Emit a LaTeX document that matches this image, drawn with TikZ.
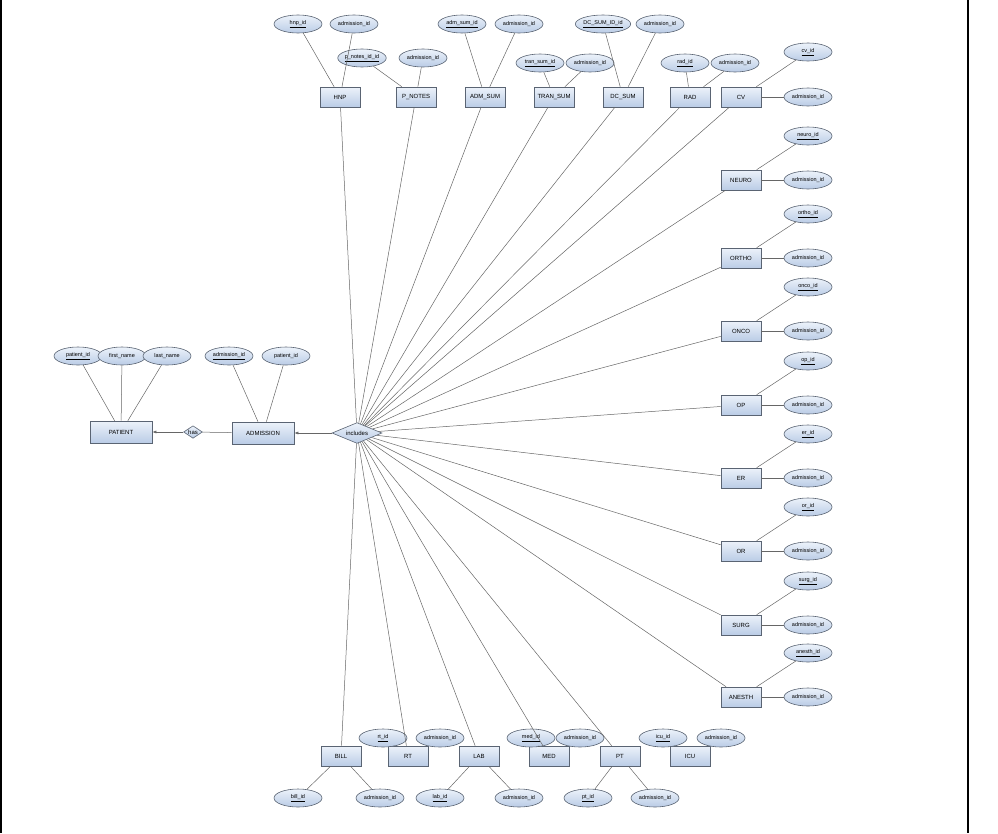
\documentclass[tikz,border=0pt]{standalone}
\usepackage{fontspec}
\setmainfont{Liberation Sans}
\usetikzlibrary{shapes.geometric,arrows.meta}
\definecolor{fillA}{RGB}{236,242,250}
\definecolor{fillB}{RGB}{186,204,230}
\definecolor{edge}{RGB}{90,100,115}
\tikzset{
 ent/.style={draw=edge,line width=0.6pt,top color=fillA,bottom color=fillB,minimum width=40pt,minimum height=20pt,font=\fontsize{6}{7}\selectfont,inner sep=1pt},
 att/.style={ellipse,draw=edge,line width=0.6pt,top color=fillA,bottom color=fillB,minimum width=48pt,minimum height=18pt,font=\fontsize{5.5}{6}\selectfont,inner sep=0pt},
 rel/.style={diamond,draw=edge,line width=0.6pt,top color=fillA,bottom color=fillB,aspect=1.5,font=\fontsize{6}{7}\selectfont,inner sep=0.5pt},
 con/.style={draw=black!60,line width=0.5pt},
 arr/.style={con,-{Latex[length=4pt,width=3pt]}}
}
\newcommand{\ux}[1]{\underline{#1}}
\begin{document}
\begin{tikzpicture}[x=1pt,y=-1pt]
\useasboundingbox (0,0) rectangle (998,833);
\draw[line width=1.2pt] (1,0) -- (1,833);
\draw[line width=1.2pt] (968,0) -- (968,833);
% main
\node[ent,minimum width=62pt,minimum height=22pt] (patient) at (121,432) {PATIENT};
\node[rel] (has) at (193,432) {has};
\node[ent,minimum width=62pt,minimum height=22pt] (admission) at (263,433) {ADMISSION};
\node[rel,minimum width=50pt] (includes) at (357,433) {includes};
\node[att] (pid) at (78,356) {\ux{patient\_id}};
\node[att] (fn) at (122,356) {first\_name};
\node[att] (ln) at (167,356) {last\_name};
\node[att] (aid) at (229,356) {\ux{admission\_id}};
\node[att] (apid) at (286,356) {patient\_id};
\draw[con] (pid) -- (patient); \draw[con] (fn) -- (patient); \draw[con] (ln) -- (patient);
\draw[con] (aid) -- (admission); \draw[con] (apid) -- (admission);
\draw[arr] (has) -- (patient);
\draw[con] (has) -- (admission);
\draw[arr] (includes) -- (admission);
% top
\node[ent] (hnp) at (340,97) {HNP};
\node[ent] (pnotes) at (416,97) {P\_NOTES};
\node[ent] (admsum) at (485,97) {ADM\_SUM};
\node[ent] (transum) at (554,97) {TRAN\_SUM};
\node[ent] (dcsum) at (623,97) {DC\_SUM};
\node[ent] (rad) at (690,97) {RAD};
\node[ent] (cv) at (741,97) {CV};
\node[att] (hnpk) at (298,24) {\ux{hnp\_id}};
\node[att] (hnpa) at (354,24) {admission\_id};
\node[att] (pnk) at (362,58) {\ux{p\_notes\_id\_id}};
\node[att] (pna) at (423,58) {admission\_id};
\node[att] (ask) at (462,24) {\ux{adm\_sum\_id}};
\node[att] (asa) at (519,24) {admission\_id};
\node[att] (tsk) at (540,63) {\ux{tran\_sum\_id}};
\node[att] (tsa) at (590,63) {admission\_id};
\node[att] (dck) at (603,24) {\ux{DC\_SUM\_ID\_id}};
\node[att] (dca) at (660,24) {admission\_id};
\node[att] (radk) at (685,63) {\ux{rad\_id}};
\node[att] (rada) at (735,63) {admission\_id};
\node[att] (cvk) at (808,52) {\ux{cv\_id}};
\node[att] (cva) at (808,97) {admission\_id};
\foreach \e/\k/\a in {hnp/hnpk/hnpa,pnotes/pnk/pna,admsum/ask/asa,transum/tsk/tsa,dcsum/dck/dca,rad/radk/rada,cv/cvk/cva}{
 \draw[con] (\k) -- (\e); \draw[con] (\a) -- (\e); \draw[con] (includes) -- (\e);}
% right
\foreach \e/\t/\y/\k in {neuro/NEURO/180/neuro,ortho/ORTHO/258/ortho,onco/ONCO/331/onco,op/OP/405/op,er/ER/478/er,or/OR/551/or,surg/SURG/625/surg,anesth/ANESTH/697/anesth}{
 \node[ent] (\e) at (741,\y) {\t};
 \node[att] (\e k) at (808,\y-44) {\ux{\k\_id}};
 \node[att] (\e a) at (808,\y) {admission\_id};
 \draw[con] (\e k) -- (\e); \draw[con] (\e a) -- (\e); \draw[con] (includes) -- (\e);}
% bottom
\node[ent] (bill) at (341,756) {BILL};
\node[ent] (rt) at (408,756) {RT};
\node[ent] (lab) at (479,756) {LAB};
\node[ent] (med) at (549,756) {MED};
\node[ent] (pt) at (620,756) {PT};
\node[ent] (icu) at (690,756) {ICU};
\node[att] (billk) at (298,798) {\ux{bill\_id}};
\node[att] (billa) at (380,798) {admission\_id};
\node[att] (rtk) at (383,738) {\ux{rt\_id}};
\node[att] (rta) at (440,738) {admission\_id};
\node[att] (labk) at (440,798) {\ux{lab\_id}};
\node[att] (laba) at (519,798) {admission\_id};
\node[att] (medk) at (531,738) {\ux{med\_id}};
\node[att] (meda) at (580,738) {admission\_id};
\node[att] (ptk) at (588,798) {\ux{pt\_id}};
\node[att] (pta) at (655,798) {admission\_id};
\node[att] (icuk) at (663,738) {\ux{icu\_id}};
\node[att] (icua) at (721,738) {admission\_id};
\foreach \e in {bill,rt,lab,med,pt}{\draw[con] (includes) -- (\e);}
\foreach \e in {bill,rt,lab,med,pt,icu}{\draw[con] (\e k) -- (\e); \draw[con] (\e a) -- (\e);}
\end{tikzpicture}
\end{document}
